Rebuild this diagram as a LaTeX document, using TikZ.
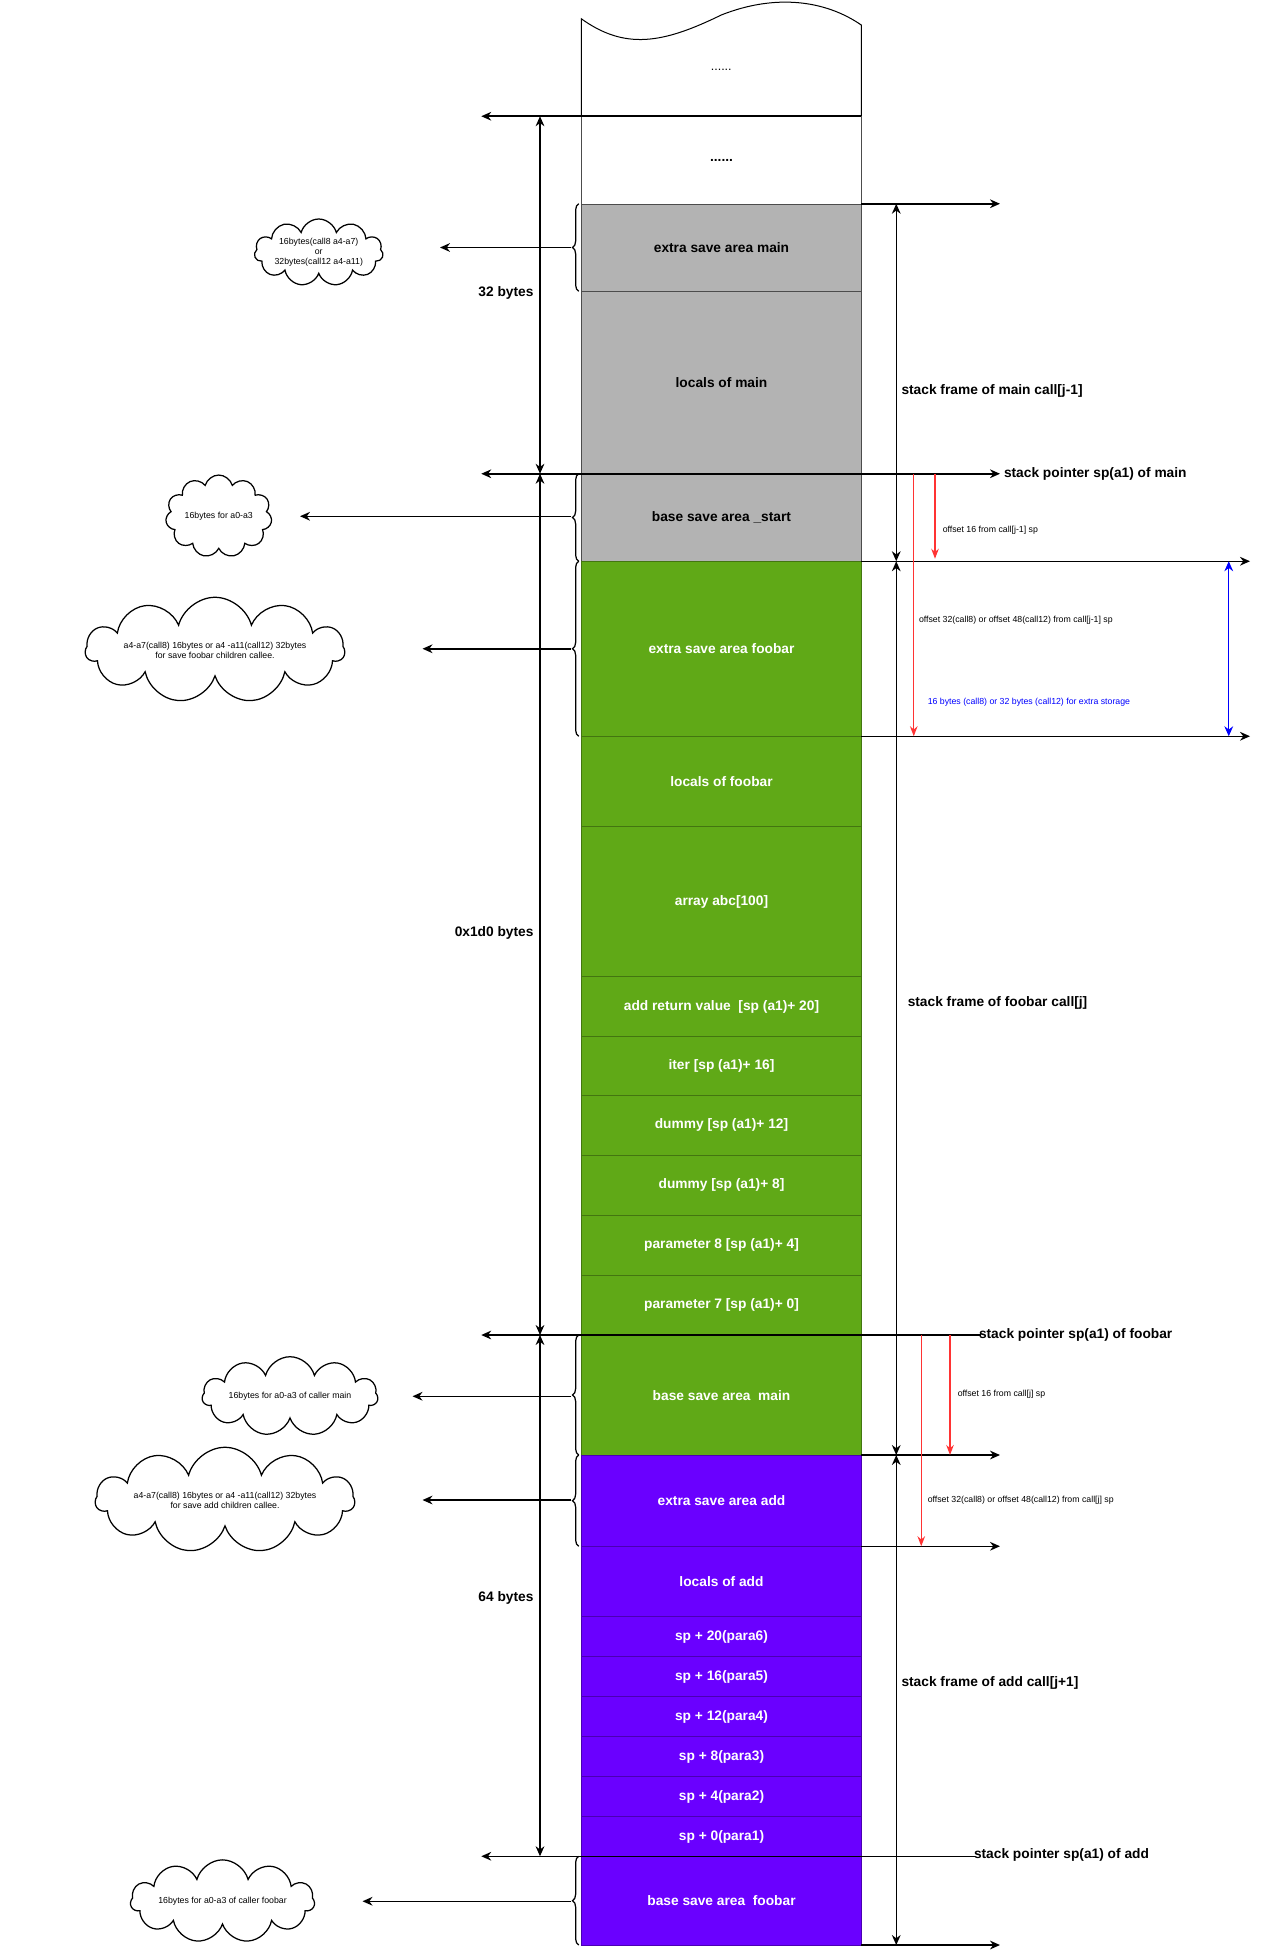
\documentclass[tikz,border=0pt]{standalone}
\usepackage{fontspec}
\setmainfont{Liberation Sans}
\usetikzlibrary{shapes.symbols,decorations.pathreplacing,arrows.meta}
\definecolor{gr}{HTML}{B3B3B3}
\definecolor{gn}{HTML}{60A917}
\definecolor{pu}{HTML}{6A00FF}
\begin{document}
\begin{tikzpicture}[x=1pt,y=-1pt,
 cell/.style={draw=black!70,minimum width=224pt,anchor=north west,inner sep=0pt,font=\fontsize{11}{13}\selectfont\bfseries},
 g/.style={cell,fill=gr,text=black}, n/.style={cell,fill=gn,text=white,draw=gn!70!black}, p/.style={cell,fill=pu,text=white,draw=pu!70!black},
 arr/.style={-{Stealth[length=8pt,width=7pt]},line width=1.2pt},
 darr/.style={{Stealth[length=8pt,width=7pt]}-{Stealth[length=8pt,width=7pt]},line width=1.2pt},
 lab/.style={font=\fontsize{11}{13}\selectfont\bfseries,anchor=west,inner sep=1pt},
 sm/.style={font=\fontsize{7}{8}\selectfont,anchor=west,inner sep=1pt},
 cl/.style={cloud,draw,line width=1pt,cloud puffs=11,aspect=3,align=center,font=\fontsize{7}{8}\selectfont,inner sep=0pt},
 br/.style={decorate,decoration={brace,amplitude=5pt},line width=1pt},
 red/.style={-{Stealth[length=8pt,width=6pt]},draw=red!80,line width=1pt}]
\useasboundingbox (0,0) rectangle (1018,1568);
% top wavy
\draw[thick] (465,93) -- (465,15) .. controls (500,40) and (530,35) .. (577,12) .. controls (620,-5) and (660,0) .. (689,20) -- (689,93);
\node at (577,56) {......};
\node[cell,minimum height=70pt] (t2) at (465,93) {......};
\def\c#1#2#3#4#5{\node[#1,minimum height=#4pt] (#2) at (465,#3) {#5};}
\c{g}{esm}{163}{70}{extra save area main}
\c{g}{lm}{233}{146}{locals of main}
\c{g}{bss}{379}{70}{base save area \_start}
\c{n}{esf}{449}{140}{extra save area foobar}
\c{n}{lf}{589}{72}{locals of foobar}
\c{n}{arr}{661}{120}{array abc[100]}
\c{n}{arv}{781}{48}{add return value~ [sp (a1)+ 20]}
\c{n}{it}{829}{47}{iter [sp (a1)+ 16]}
\c{n}{d12}{876}{48}{dummy [sp (a1)+ 12]}
\c{n}{d8}{924}{48}{dummy [sp (a1)+ 8]}
\c{n}{p8}{972}{48}{parameter 8 [sp (a1)+ 4]}
\c{n}{p7}{1020}{48}{parameter 7 [sp (a1)+ 0]}
\c{n}{bsm}{1068}{96}{base save area~ main}
\c{p}{esa}{1164}{73}{extra save area add}
\c{p}{la}{1237}{56}{locals of add}
\c{p}{s20}{1293}{32}{sp + 20(para6)}
\c{p}{s16}{1325}{32}{sp + 16(para5)}
\c{p}{s12}{1357}{32}{sp + 12(para4)}
\c{p}{s8}{1389}{32}{sp + 8(para3)}
\c{p}{s4}{1421}{32}{sp + 4(para2)}
\c{p}{s0}{1453}{32}{sp + 0(para1)}
\c{p}{bsf}{1485}{71}{base save area~ foobar}
% left horizontal arrows
\foreach \y/\n in {93/a,379/b,1068/c,1485/d}{
 \coordinate (L\n) at (385,\y); \draw[arr] (689,\y) -- (L\n);}
% left dimension arrows
\coordinate (v1) at (432,93); \coordinate (v2) at (432,379); \coordinate (v3) at (432,1068); \coordinate (v4) at (432,1485);
\draw[darr] (v1) -- (v2); \draw[darr] (v2) -- (v3); \draw[darr] (v3) -- (v4);
\node[lab,anchor=east] at (428,234) {32 bytes};
\node[lab,anchor=east] at (428,746) {0x1d0 bytes};
\node[lab,anchor=east] at (428,1278) {64 bytes};
% braces & clouds
\draw[br] (463,233) -- (463,163); \draw[br] (463,449) -- (463,379); \draw[br] (463,589) -- (463,449);
\draw[br] (463,1164) -- (463,1068); \draw[br] (463,1237) -- (463,1164); \draw[br] (463,1556) -- (463,1485);
\node[cl] (c1) at (255,202) {16bytes(call8 a4-a7)\\or\\32bytes(call12 a4-a11)};
\node[cl,aspect=1.5] (c2) at (175,413) {16bytes for a0-a3};
\node[cl,aspect=5] (c3) at (172,520) {a4-a7(call8) 16bytes or a4 -a11(call12) 32bytes\\for save foobar children callee.};
\node[cl,aspect=4] (c4) at (232,1117) {16bytes for a0-a3 of caller main};
\node[cl,aspect=5] (c5) at (180,1200) {a4-a7(call8) 16bytes or a4 -a11(call12) 32bytes\\for save add children callee.};
\node[cl,aspect=4] (c6) at (178,1521) {16bytes for a0-a3 of caller foobar};
\foreach \y/\x/\n in {198/352/c1,413/240/c2,519/338/c3,1117/330/c4,1200/338/c5,1521/290/c6}{
 \coordinate (s\n) at (457,\y); \coordinate (e\n) at (\x,\y); \draw[arr] (s\n) -- (e\n);}
% right
\coordinate (r1) at (717,163); \coordinate (r2) at (717,449); \coordinate (r3) at (717,1164); \coordinate (r4) at (717,1556);
\draw[darr] (r1) -- (r2); \draw[darr] (r2) -- (r3); \draw[darr] (r3) -- (r4);
\node[lab] at (720,313) {stack frame of main call[j-1]};
\node[lab] at (725,802) {stack frame of foobar call[j]};
\node[lab] at (720,1346) {stack frame of add call[j+1]};
\foreach \y/\x/\n in {163/800/a,379/800/b,449/1000/c,589/1000/d,1164/800/e,1237/800/f,1556/800/g}{
 \coordinate (R\n) at (\x,\y); \draw[arr] (689,\y) -- (R\n);}
\coordinate (Rh) at (785,1068); \draw[line width=1.2pt] (689,1068) -- (Rh);
\coordinate (Ri) at (780,1485); \draw[line width=1.2pt] (689,1485) -- (Ri);
\node[lab] at (802,379) {stack pointer sp(a1) of main};
\node[lab] at (782,1068) {stack pointer sp(a1) of foobar};
\node[lab] at (778,1484) {stack pointer sp(a1) of add};
\coordinate (ra) at (748,379); \coordinate (rb) at (748,447); \draw[red] (ra) -- (rb);
\coordinate (rc) at (731,379); \coordinate (rd) at (731,589); \draw[red] (rc) -- (rd);
\coordinate (re) at (760,1068); \coordinate (rf) at (760,1164); \draw[red] (re) -- (rf);
\coordinate (rg) at (737,1068); \coordinate (rh) at (737,1237); \draw[red] (rg) -- (rh);
\coordinate (ba) at (983,449); \coordinate (bb) at (983,589); \draw[darr,blue,line width=1pt] (ba) -- (bb);
\node[sm] at (753,424) {offset 16 from call[j-1] sp};
\node[sm] at (734,496) {offset 32(call8) or offset 48(call12) from call[j-1] sp};
\node[sm,text=blue] at (741,562) {16 bytes (call8) or 32 bytes (call12) for extra storage};
\node[sm] at (765,1115) {offset 16 from call[j] sp};
\node[sm] at (741,1200) {offset 32(call8) or offset 48(call12) from call[j] sp};
\end{tikzpicture}
\end{document}
